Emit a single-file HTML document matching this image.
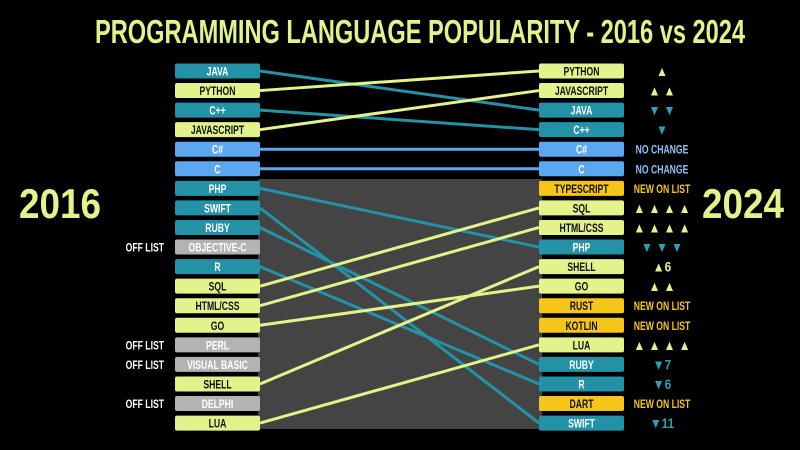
<!DOCTYPE html>
<html><head><meta charset="utf-8"><style>
html,body{margin:0;padding:0;background:#000;}
svg{display:block}
text{font-family:"Liberation Sans Narrow","Liberation Sans",sans-serif;font-weight:bold;}
</style></head><body>
<svg id="chart" width="800" height="450" viewBox="0 0 800 450">
<rect width="800" height="450" fill="#000"/>
<rect x="258" y="179" width="284" height="250" fill="#444"/>
<text x="420" y="43" text-anchor="middle" font-size="33" fill="#e3f28a" textLength="650" lengthAdjust="spacingAndGlyphs">PROGRAMMING LANGUAGE POPULARITY - 2016 vs 2024</text>
<text x="60" y="218" text-anchor="middle" font-size="42" fill="#e3f28a" textLength="82" lengthAdjust="spacingAndGlyphs">2016</text>
<text x="743" y="218" text-anchor="middle" font-size="42" fill="#e3f28a" textLength="82" lengthAdjust="spacingAndGlyphs">2024</text>
<g id="lines"></g><g id="boxes"></g>
</svg>
<script>
const left2016 = ["JAVA","PYTHON","C++","JAVASCRIPT","C#","C","PHP","SWIFT","RUBY","OBJECTIVE-C","R","SQL","HTML/CSS","GO","PERL","VISUAL BASIC","SHELL","DELPHI","LUA"];
const leftType = ["t","y","t","y","b","b","t","t","t","g","t","y","y","y","g","g","y","g","y"];
const right2024 = ["PYTHON","JAVASCRIPT","JAVA","C++","C#","C","TYPESCRIPT","SQL","HTML/CSS","PHP","SHELL","GO","RUST","KOTLIN","LUA","RUBY","R","DART","SWIFT"];
const rightType = ["y","y","t","t","b","b","n","y","y","t","y","y","n","n","y","t","t","n","t"];
const changes = ["▲","▲ ▲","▼ ▼","▼","NO CHANGE","NO CHANGE","NEW ON LIST","▲ ▲ ▲ ▲","▲ ▲ ▲ ▲","▼ ▼ ▼","▲6","▲ ▲","NEW ON LIST","NEW ON LIST","▲ ▲ ▲ ▲","▼7","▼6","NEW ON LIST","▼11"];
const fills={t:"#2392a6",y:"#e3f28a",b:"#5ca8f0",g:"#b3b3b3",n:"#f5c518"};
const txt={t:"#fff",y:"#111",b:"#fff",g:"#fff",n:"#111"};
const NS="http://www.w3.org/2000/svg";
function yPos(i){return 71+i*19.56;}
const LX=175,RX=539,BW=85,BH=15;
const gl=document.getElementById("lines"),gb=document.getElementById("boxes");
function mk(tag,attrs,parent){const e=document.createElementNS(NS,tag);for(const k in attrs)e.setAttribute(k,attrs[k]);parent.appendChild(e);return e;}
function narrowText(cx,cy,str,size,fill,anchor,parent,sx){
  const t=mk("text",{x:0,y:0,"text-anchor":anchor,"font-size":size,fill:fill,transform:`translate(${cx},${cy}) scale(${sx||0.72},1)`},parent);
  t.textContent=str;return t;
}
function box(x,i,label,type,parent){
  const g=mk("g",{},parent);
  
  
  mk("rect",{x:x,y:yPos(i)-BH/2,width:BW,height:BH,rx:2,fill:fills[type]},g);
  narrowText(x+BW/2,yPos(i)+4.5,label,12,txt[type],"middle",g);
}
left2016.forEach((l,i)=>{
  const j=right2024.indexOf(l);
  if(j>=0){
    const ln=mk("line",{x1:LX+BW,y1:yPos(i),x2:RX,y2:yPos(j),stroke:fills[leftType[i]],"stroke-width":3},gl);
    
    
  } else {
    const t=narrowText(164,yPos(i)+4.5,"OFF LIST",12,"#fff","end",gb);
    
    
  }
  box(LX,i,l,leftType[i],gb);
});
right2024.forEach((l,j)=>{
  box(RX,j,l,rightType[j],gb);
  const c=changes[j];
  let col=c.startsWith("▲")?"#e3f28a":c.startsWith("▼")?"#2aa0b8":c.startsWith("NEW")?"#f5c518":"#8ec0f5";
  const isTri=c.startsWith("▲")||c.startsWith("▼");
  const t=narrowText(662,yPos(j)+(isTri?5:4.5),c,isTri?14:12,col,"middle",gb,isTri?0.85:0.72);
  
  
});
</script>
</body></html>
